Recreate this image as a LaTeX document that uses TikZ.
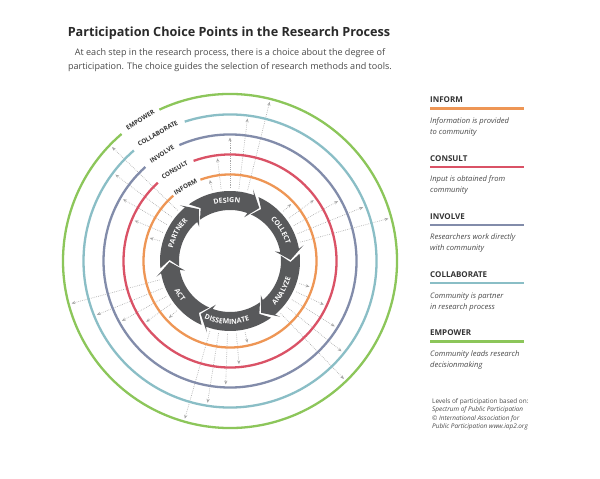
\documentclass[tikz,border=0pt]{standalone}
\usepackage{fontspec}
\setmainfont{Open Sans}
\usetikzlibrary{arrows.meta,decorations.text}
\definecolor{cInform}{HTML}{EE9655}
\definecolor{cConsult}{HTML}{DA5266}
\definecolor{cInvolve}{HTML}{828CAA}
\definecolor{cCollab}{HTML}{8ABEC6}
\definecolor{cEmpower}{HTML}{8CC65A}
\definecolor{cCycle}{HTML}{58595B}
\definecolor{cText}{HTML}{333333}
\definecolor{cTitle}{HTML}{2A2A2A}
\definecolor{cSub}{HTML}{4A4A4A}
\definecolor{cDot}{HTML}{A8A8A8}
\newcommand\segfont{\bfseries\fontsize{7}{8}\selectfont}
\begin{document}
\begin{tikzpicture}[x=1pt,y=1pt,
  ring/.style={line width=2.3pt},
  dotarrow/.style={draw=cDot, line width=0.65pt, dash pattern=on 0.65pt off 1.2pt, -{Stealth[length=3.8pt,width=3.2pt]}},
  seg/.style={fill=cCycle},
  ringlabel/.style={font=\bfseries\fontsize{6.3}{7}\selectfont, text=cText, inner sep=0pt},
  lhead/.style={font=\bfseries\fontsize{8}{9}\selectfont, text=cText, anchor=base west, inner sep=0pt},
  ldesc/.style={font=\itshape\fontsize{7.6}{9}\selectfont, text=cSub, anchor=base west, inner sep=0pt},
  lline/.style={line width=2.3pt},
  foot/.style={font=\fontsize{6.4}{8}\selectfont, text=cSub, anchor=base west, inner sep=0pt},
  footit/.style={foot, font=\itshape\fontsize{6.4}{8}\selectfont},
]
\useasboundingbox (0,0) rectangle (600,479);
\fill[white] (0,0) rectangle (600,479);

% title
\node[font=\bfseries\fontsize{12.65}{15}\selectfont, text=cTitle] (title) at (229,446) {Participation Choice Points in the Research Process};
\node[font=\fontsize{9.05}{14}\selectfont, text=cSub, align=center] (sub) at (230,419) {At each step in the research process, there is a choice about the degree of\\participation. The choice guides the selection of research methods and tools.};

\begin{scope}[shift={(230,218)}]
  % dotted arrows
  \foreach \p [count=\k] in {90,29,-32,-92,-151,-210} {
    \foreach \r/\d [count=\i] in {86.5/14,106.5/7,126.5/0,146.5/-7,167/-14} {
      \pgfmathsetmacro\rr{\r-3}
      \pgfmathsetmacro\aa{\p+\d}
      \coordinate (s\k\i) at (\aa:73pt);
      \coordinate (t\k\i) at (\aa:\rr pt);
      \draw[dotarrow] (s\k\i) -- (t\k\i);
    }
  }
  % rings
  \draw[ring,cInform]  (110:86.5pt)  arc[start angle=110,  end angle=-229,   radius=86.5pt];
  \draw[ring,cConsult] (110:106.5pt) arc[start angle=110,  end angle=-227.3, radius=106.5pt];
  \draw[ring,cInvolve] (113.6:126.5pt) arc[start angle=113.6, end angle=-228, radius=126.5pt];
  \draw[ring,cCollab]  (108:146.5pt) arc[start angle=108,  end angle=-229,   radius=146.5pt];
  \draw[ring,cEmpower] (115:167pt)   arc[start angle=115,  end angle=-229.5, radius=167pt];
  % ring labels
  \node[ringlabel, rotate=31]   (lInform)  at (121:86.5pt)  {INFORM};
  \node[ringlabel, rotate=31.3] (lConsult) at (121.3:106.5pt) {CONSULT};
  \node[ringlabel, rotate=32.5] (lInvolve) at (122.5:126.5pt) {INVOLVE};
  \node[ringlabel, rotate=29.5] (lCollab)  at (119.5:146.5pt) {COLLABORATE};
  \node[ringlabel, rotate=32.5] (lEmpower) at (122.5:167pt) {EMPOWER};
  % cycle segments
  \foreach \c in {96,36,-24,-84,-144,-204} {
    \pgfmathsetmacro\ta{\c+30}
    \pgfmathsetmacro\tb{\c-26}
    \pgfmathsetmacro\tc{\c-24}
    \pgfmathsetmacro\td{\c-35}
    \pgfmathsetmacro\te{\c+23}
    \fill[seg] (\ta:70pt) arc[start angle=\ta, end angle=\tb, radius=70pt]
      -- (\tc:75pt) -- (\td:60.5pt) -- (\tc:46pt) -- (\tb:51pt)
      arc[start angle=\tb, end angle=\ta, radius=51pt] -- (\te:60.5pt) -- cycle;
  }
  % segment labels
  \path[decorate, decoration={text along path, text align=center, text color=white, text={|\segfont|DESIGN}}]
    (118:58.3pt) arc[start angle=118, end angle=68, radius=58.3pt];
  \path[decorate, decoration={text along path, text align=center, text color=white, text={|\segfont|COLLECT}}]
    (59:58.3pt) arc[start angle=59, end angle=3, radius=58.3pt];
  \path[decorate, decoration={text along path, text align=center, text color=white, text={|\segfont|PARTNER}}]
    (180:58.3pt) arc[start angle=180, end angle=124, radius=58.3pt];
  \path[decorate, decoration={text along path, text align=center, text color=white, text={|\segfont|ANALYZE}}]
    (-58:63pt) arc[start angle=-58, end angle=-2, radius=63pt];
  \path[decorate, decoration={text along path, text align=center, text color=white, text={|\segfont|DISSEMINATE}}]
    (-125:63pt) arc[start angle=-125, end angle=-61, radius=63pt];
  \path[decorate, decoration={text along path, text align=center, text color=white, text={|\segfont|ACT}}]
    (-174:63pt) arc[start angle=-174, end angle=-118, radius=63pt];
\end{scope}

% legend
\foreach \nm/\col/\da/\db [count=\i from 0] in {
  INFORM/cInform/Information is provided/to community,
  CONSULT/cConsult/Input is obtained from/community,
  INVOLVE/cInvolve/Researchers work directly/with community,
  COLLABORATE/cCollab/Community is partner/in research process,
  EMPOWER/cEmpower/Community leads research/decisionmaking}
{
  \pgfmathsetmacro\hb{479-103-58.25*\i}
  \node[lhead] (h\i) at (430,\hb) {\nm};
  \coordinate (la\i) at (430,\hb-5.5);
  \coordinate (lb\i) at (524,\hb-5.5);
  \draw[lline,\col] (la\i) -- (lb\i);
  \node[ldesc] (da\i) at (430,\hb-20.5) {\da};
  \node[ldesc] (db\i) at (430,\hb-31.5) {\db};
}

% footer
\node[foot]   (f1) at (432,75.3) {Levels of participation based on:};
\node[footit] (f2) at (432,67)   {Spectrum of Public Participation};
\node[footit] (f3) at (432,58.7) {© International Association for};
\node[footit] (f4) at (432,50.3) {Public Participation www.iap2.org};
\end{tikzpicture}
\end{document}
